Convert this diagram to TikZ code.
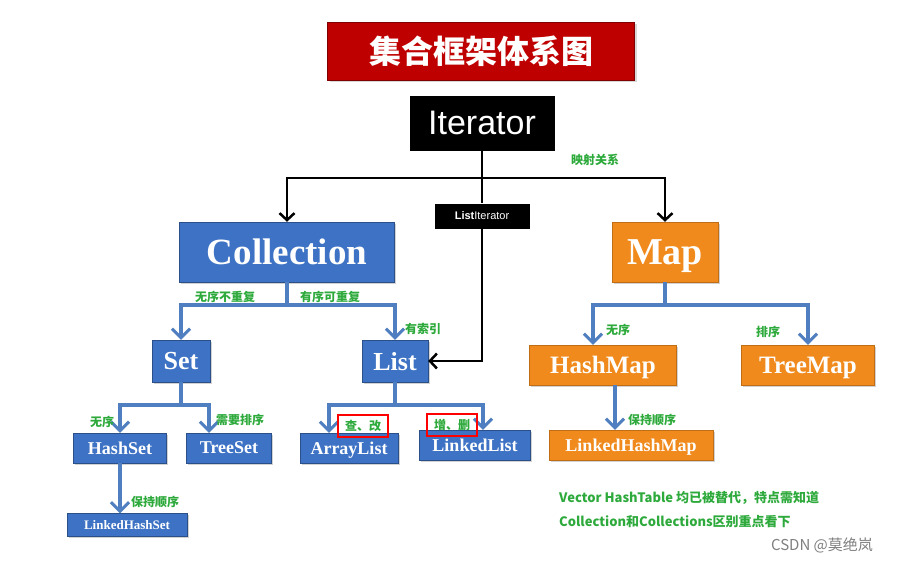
\documentclass[tikz,border=0pt]{standalone}
\usepackage{fontspec}
\setmainfont{Liberation Serif}
\newfontfamily\cjk{Noto Sans CJK SC}
\newfontfamily\sanss{Liberation Sans}
\usetikzlibrary{arrows.meta,shadows}
\definecolor{bboxc}{HTML}{3D72C4}
\definecolor{oboxc}{HTML}{F08A1C}
\definecolor{lnc}{HTML}{4F7FC0}
\definecolor{gtxt}{HTML}{2EAA3C}
\tikzset{x=1pt,y=-1pt,
 bx/.style={fill=bboxc,draw=bboxc!70!black,text=white,inner sep=0pt,text depth=0pt,drop shadow={opacity=0.35,shadow xshift=1.5pt,shadow yshift=-1.5pt}},
 ob/.style={bx,fill=oboxc,draw=oboxc!80!black},
 kb/.style={fill=black,text=white,inner sep=0pt,font=\sanss},
 bl/.style={draw=lnc,line width=3.5pt,-{Straight Barb[length=9pt,width=18pt,line width=3pt]}},
 bll/.style={draw=lnc,line width=3.5pt},
 kl/.style={draw=black,line width=2.5pt},
 ka/.style={kl,-{Straight Barb[length=7pt,width=15pt,line width=2.5pt]}},
 lab/.style={text=gtxt,font=\cjk\bfseries\fontsize{12}{14}\selectfont,inner sep=1pt},
 nt/.style={lab,font=\cjk\bfseries\fontsize{13}{15}\selectfont}}
\begin{document}
\begin{tikzpicture}
\useasboundingbox[fill=white] (0,0) rectangle (902,563);
% title
\node[fill=red!75!black,draw=red!50!black,minimum width=307pt,minimum height=58pt,text=white,font=\cjk\bfseries\fontsize{32}{34}\selectfont,inner sep=0pt,drop shadow={opacity=0.3}] (title) at (481,51) {集合框架体系图};
\node[kb,minimum width=145pt,minimum height=55pt,font=\sanss\fontsize{34}{36}\selectfont] (it) at (482,123) {Iterator};
\node[kb,minimum width=95pt,minimum height=25pt,font=\sanss\fontsize{11}{13}\selectfont] (li) at (482,216) {\textbf{List}Iterator};
\node[bx,minimum width=215pt,minimum height=60pt,font=\bfseries\fontsize{37}{40}\selectfont] (col) at (287,252) {Collection};
\node[ob,minimum width=106pt,minimum height=60pt,font=\bfseries\fontsize{38}{40}\selectfont] (map) at (665,252) {Map};
\node[bx,minimum width=58pt,minimum height=42pt,font=\bfseries\fontsize{26}{28}\selectfont] (set) at (181,361) {Set};
\node[bx,minimum width=66pt,minimum height=42pt,font=\bfseries\fontsize{26}{28}\selectfont] (list) at (395,361) {List};
\node[bx,minimum width=93pt,minimum height=30pt,font=\bfseries\fontsize{18}{20}\selectfont] (hs) at (120,448) {HashSet};
\node[bx,minimum width=85pt,minimum height=30pt,font=\bfseries\fontsize{18}{20}\selectfont] (ts) at (229,448) {TreeSet};
\node[bx,minimum width=98pt,minimum height=30pt,font=\bfseries\fontsize{18}{20}\selectfont] (al) at (349,448) {ArrayList};
\node[bx,minimum width=111pt,minimum height=30pt,font=\bfseries\fontsize{18}{20}\selectfont] (ll) at (475,445) {LinkedList};
\node[bx,minimum width=120pt,minimum height=23pt,font=\bfseries\fontsize{13}{15}\selectfont] (lhs) at (127,525) {LinkedHashSet};
\node[ob,minimum width=147pt,minimum height=40pt,font=\bfseries\fontsize{25}{27}\selectfont] (hm) at (603,365) {HashMap};
\node[ob,minimum width=133pt,minimum height=40pt,font=\bfseries\fontsize{25}{27}\selectfont] (tm) at (808,365) {TreeMap};
\node[ob,minimum width=164pt,minimum height=30pt,font=\bfseries\fontsize{18}{20}\selectfont] (lhm) at (631,445) {LinkedHashMap};
% black connectors
\coordinate (kj) at (482,178);
\draw[kl] (it.south) -- (kj);
\draw[ka] (kj) -| (col.north);
\draw[ka] (kj) -| (map.north);
\draw[kl] (kj) -- (li.north);
\draw[ka] (li.south) |- (list.east);
% blue connectors
\coordinate (cj) at (287,305);
\draw[bll] (col.south) -- (cj);
\draw[bl] (cj) -| (set.north);
\draw[bl] (cj) -| (list.north);
\coordinate (sj) at (181,405);
\draw[bll] (set.south) -- (sj);
\draw[bl] (sj) -| (hs.north);
\draw[bl] (sj) -| ([xshift=-20pt]ts.north);
\coordinate (lj) at (395,405);
\draw[bll] (list.south) -- (lj);
\draw[bl] (lj) -| ([xshift=-20pt]al.north);
\draw[bl] (lj) -| ([xshift=8pt]ll.north);
\draw[bl] (hs.south) -- (lhs.north -| hs.south);
\coordinate (mj) at (665,305);
\draw[bll] (map.south) -- (mj);
\draw[bl] (mj) -| ([xshift=-10pt]hm.north);
\draw[bl] (mj) -| (tm.north);
\draw[bl] ([xshift=12pt]hm.south) -- ([xshift=-16pt]lhm.north);
% labels
\node[lab] (l1) at (595,160) {映射关系};
\node[lab] (l2) at (225,297) {无序不重复};
\node[lab] (l3) at (330,297) {有序可重复};
\node[lab] (l4) at (423,329) {有索引};
\node[lab] (l5) at (102,422) {无序};
\node[lab] (l6) at (240,420) {需要排序};
\node[lab] (l7) at (155,502) {保持顺序};
\node[lab,draw=red,line width=1.2pt,minimum width=50pt,minimum height=22pt] (l8) at (363,426) {查、改};
\node[lab,draw=red,line width=1.2pt,minimum width=50pt,minimum height=22pt] (l9) at (452,425) {增、删};
\node[lab] (l10) at (618,330) {无序};
\node[lab] (l11) at (768,332) {排序};
\node[lab] (l12) at (652,420) {保持顺序};
\node[nt,anchor=west] (n1) at (558,498) {Vector HashTable 均已被替代，特点需知道};
\node[nt,anchor=west] (n2) at (558,522) {Collection和Collections区别重点看下};
\node[text=gray,font=\cjk\fontsize{15}{17}\selectfont,inner sep=0pt] (csdn) at (822,545) {CSDN @莫绝岚};
\end{tikzpicture}
\end{document}
